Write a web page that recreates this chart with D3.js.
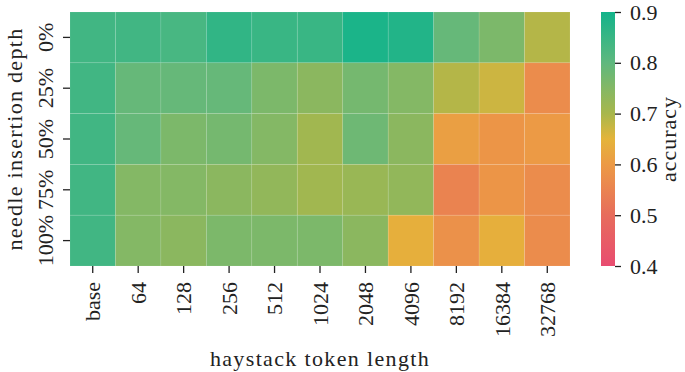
<!DOCTYPE html>
<html>
<head>
<meta charset="utf-8">
<script src="https://cdn.jsdelivr.net/npm/d3@7"></script>
<style>
  body { margin: 0; background: #fff; }
  text { font-family: "Liberation Serif", "DejaVu Serif", serif; fill: #222; }
</style>
</head>
<body>
<div id="chart"></div>
<script>
// haystack token length columns
const lengths = ["base", "64", "128", "256", "512", "1024", "2048", "4096", "8192", "16384", "32768"];
// needle insertion depth rows
const depths = ["0%", "25%", "50%", "75%", "100%"];

// accuracy per row (depth), one value per length
const acc0   = [0.84, 0.84, 0.83, 0.86, 0.85, 0.85, 0.89, 0.88, 0.79, 0.76, 0.69];
const acc25  = [0.84, 0.79, 0.79, 0.79, 0.76, 0.74, 0.77, 0.75, 0.69, 0.67, 0.57];
const acc50  = [0.84, 0.79, 0.76, 0.77, 0.75, 0.71, 0.78, 0.74, 0.61, 0.59, 0.60];
const acc75  = [0.84, 0.75, 0.75, 0.74, 0.73, 0.71, 0.72, 0.73, 0.55, 0.59, 0.57];
const acc100 = [0.84, 0.75, 0.74, 0.76, 0.76, 0.76, 0.74, 0.64, 0.58, 0.64, 0.57];
const accRows = [acc0, acc25, acc50, acc75, acc100];

const cbarTicks = [0.4, 0.5, 0.6, 0.7, 0.8, 0.9];

const width = 685, height = 372;
const margin = { left: 70, top: 12, right: 115, bottom: 106 };
const w = width - margin.left - margin.right;   // 500
const h = height - margin.top - margin.bottom;  // 254
const fs = 22;

const svg = d3.select("#chart").append("svg")
  .attr("width", width)
  .attr("height", height);

const g = svg.append("g")
  .attr("transform", `translate(${margin.left},${margin.top})`);

const x = d3.scaleBand().domain(lengths).range([0, w]);
const y = d3.scaleBand().domain(depths).range([0, h]);

// custom colour ramp
const color = d3.scaleLinear()
  .domain([0.4, 0.5, 0.6, 0.65, 0.7, 0.8, 0.9])
  .range(["#e84c70", "#e76c5c", "#ec9a45", "#e4b43a", "#a8b74b", "#5fb87e", "#13b38a"])
  .clamp(true);

const cells = [];
accRows.forEach((row, i) => {
  row.forEach((v, j) => cells.push({ depth: depths[i], len: lengths[j], v: v }));
});

g.selectAll("rect.cell")
  .data(cells)
  .enter()
  .append("rect")
  .attr("class", "cell")
  .attr("x", d => x(d.len))
  .attr("y", d => y(d.depth))
  .attr("width", x.bandwidth())
  .attr("height", y.bandwidth())
  .attr("fill", d => color(d.v))
  .attr("stroke", "rgba(255,255,255,0.12)")
  .attr("stroke-width", 0.8);

// axes
const xAxis = g.append("g")
  .attr("transform", `translate(0,${h})`)
  .call(d3.axisBottom(x).tickSizeOuter(0).tickSize(7));
xAxis.select(".domain").remove();
xAxis.selectAll(".tick line").attr("stroke", "#222").attr("stroke-width", 1.3);
xAxis.selectAll(".tick text")
  .attr("font-size", fs)
  .attr("text-anchor", "end")
  .attr("dy", "0.35em")
  .attr("transform", "rotate(-90)")
  .attr("x", -16)
  .attr("y", 0);

const yAxis = g.append("g")
  .call(d3.axisLeft(y).tickSizeOuter(0).tickSize(7));
yAxis.select(".domain").remove();
yAxis.selectAll(".tick line").attr("stroke", "#222").attr("stroke-width", 1.3);
yAxis.selectAll(".tick text")
  .attr("font-size", fs)
  .attr("text-anchor", "middle")
  .attr("dy", 0)
  .attr("x", 0)
  .attr("y", 0)
  .attr("transform", "translate(-17,0) rotate(-90)");

svg.append("text")
  .attr("text-anchor", "middle")
  .attr("font-size", fs)
  .attr("letter-spacing", 1.3)
  .attr("transform", `translate(22,${margin.top + h / 2}) rotate(-90)`)
  .text("needle insertion depth");

svg.append("text")
  .attr("text-anchor", "middle")
  .attr("font-size", fs)
  .attr("letter-spacing", 1.35)
  .attr("x", margin.left + w / 2)
  .attr("y", 366)
  .text("haystack token length");

// colorbar
const cbX = 601, cbW = 14;
const cb = d3.scaleLinear().domain([0.4, 0.9]).range([266, 12]);

const defs = svg.append("defs");
const grad = defs.append("linearGradient")
  .attr("id", "cbgrad")
  .attr("x1", 0).attr("y1", 1).attr("x2", 0).attr("y2", 0);
d3.range(0, 1.0001, 0.05).forEach(t => {
  const v = 0.4 + t * 0.5;
  grad.append("stop").attr("offset", t).attr("stop-color", color(v));
});

svg.append("rect")
  .attr("x", cbX)
  .attr("y", cb(0.9))
  .attr("width", cbW)
  .attr("height", cb(0.4) - cb(0.9))
  .attr("fill", "url(#cbgrad)");

const cAxis = svg.append("g")
  .attr("transform", `translate(${cbX + cbW},0)`)
  .call(d3.axisRight(cb).tickValues(cbarTicks).tickFormat(d3.format(".1f")).tickSize(6).tickPadding(9));
cAxis.select(".domain").remove();
cAxis.selectAll(".tick line").attr("stroke", "#222").attr("stroke-width", 1.3);
cAxis.selectAll(".tick text").attr("font-size", fs);

svg.append("text")
  .attr("text-anchor", "middle")
  .attr("font-size", fs)
  .attr("letter-spacing", 1)
  .attr("transform", `translate(676,${(cb(0.4) + cb(0.9)) / 2}) rotate(-90)`)
  .text("accuracy");
</script>
</body>
</html>
